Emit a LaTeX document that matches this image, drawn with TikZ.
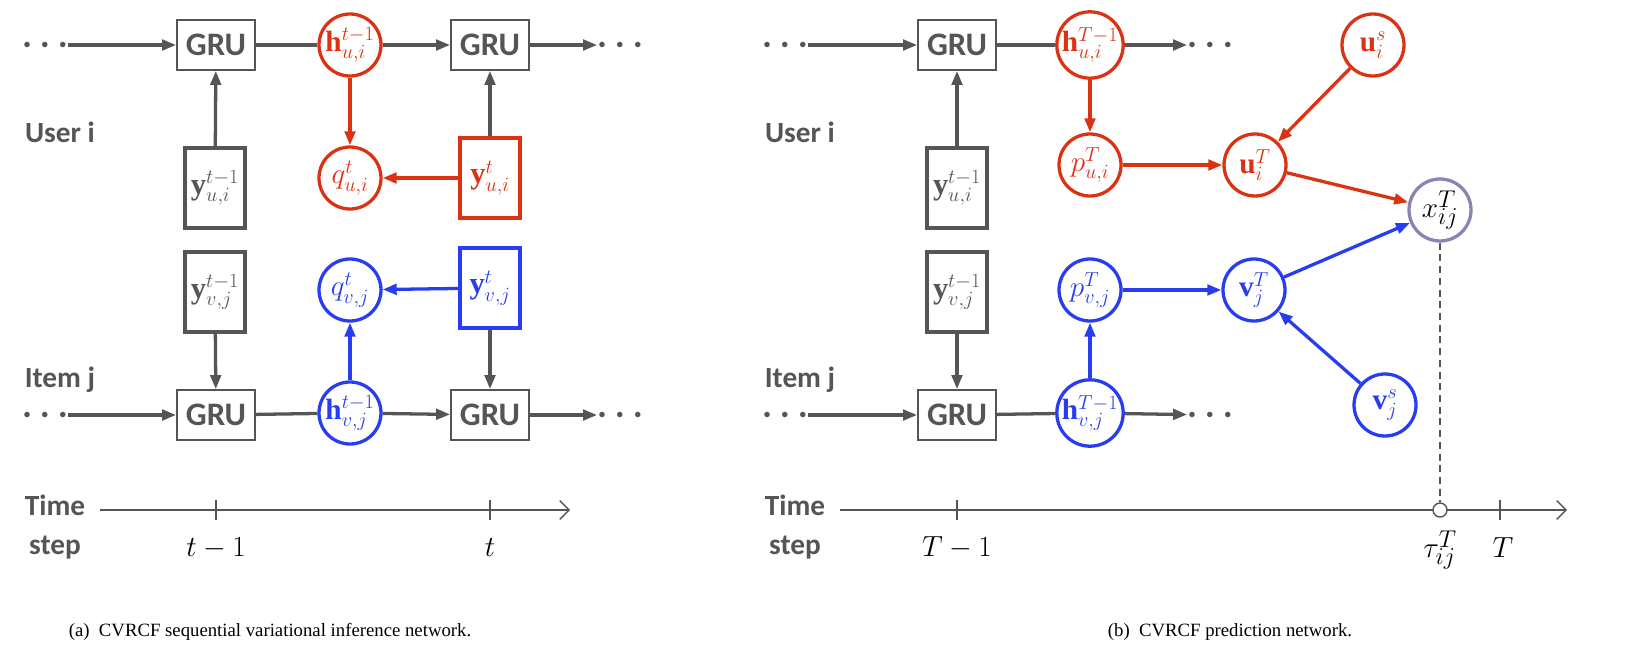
\documentclass[tikz,border=0pt]{standalone}
\usepackage{fontspec}
\setsansfont{Carlito}
\setmainfont{Liberation Serif}
\usetikzlibrary{arrows.meta}
\definecolor{rr}{RGB}{220,50,20}
\definecolor{bb}{RGB}{40,60,240}
\definecolor{gg}{RGB}{85,85,85}
\definecolor{pp}{RGB}{140,130,180}
\begin{document}
\begin{tikzpicture}[x=0.03cm,y=-0.03cm,
 ar/.style={line width=2.8pt,-{Triangle[length=12pt,width=9pt]}},
 ln/.style={line width=2.8pt},
 gru/.style={draw=gg,line width=1.5pt,minimum width=78*0.03cm,minimum height=50*0.03cm,font=\sffamily\bfseries\fontsize{28}{28}\selectfont,text=gg},
 obs/.style={draw=#1,line width=2.8pt,minimum width=60*0.03cm,minimum height=80*0.03cm,inner sep=0pt,font=\fontsize{26}{26}\selectfont,text=#1},
 cir/.style={draw=#1,circle,line width=2.8pt,minimum size=62*0.03cm,inner sep=0pt,font=\fontsize{25}{25}\selectfont,text=#1},
 lab/.style={font=\sffamily\bfseries\fontsize{25}{25}\selectfont,text=gg},
 dots/.style={font=\fontsize{13}{13}\selectfont,text=gg,inner sep=1pt},
 tl/.style={font=\fontsize{30}{30}\selectfont},
 captxt/.style={font=\fontsize{16}{16}\selectfont}]
\useasboundingbox (0,0) rectangle (1648,647);
% ---------- left panel
\node[dots] (d1) at (45,45) {$\bullet\;\;\bullet\;\;\bullet$};
\node[gru] (g1) at (216,45) {GRU};
\node[gru] (g2) at (490,45) {GRU};
\node[dots] (d2) at (620,45) {$\bullet\;\;\bullet\;\;\bullet$};
\node[cir=rr] (hu) at (350,45) {$\mathbf{h}^{t-1}_{u,i}$};
\node[cir=rr] (qu) at (350,178) {$q^{t}_{u,i}$};
\node[obs=gg] (yu0) at (215,188) {$\mathbf{y}^{t-1}_{u,i}$};
\node[obs=rr] (yu1) at (490,178) {$\mathbf{y}^{t}_{u,i}$};
\node[obs=gg] (yv0) at (215,292) {$\mathbf{y}^{t-1}_{v,j}$};
\node[cir=bb] (qv) at (350,290) {$q^{t}_{v,j}$};
\node[obs=bb] (yv1) at (490,288) {$\mathbf{y}^{t}_{v,j}$};
\node[cir=bb] (hv) at (350,413) {$\mathbf{h}^{t-1}_{v,j}$};
\node[gru] (g3) at (216,415) {GRU};
\node[gru] (g4) at (490,415) {GRU};
\node[dots] (d3) at (45,415) {$\bullet\;\;\bullet\;\;\bullet$};
\node[dots] (d4) at (620,415) {$\bullet\;\;\bullet\;\;\bullet$};
\draw[ar,gg] (d1) -- (g1);
\draw[ln,gg] (g1) -- (hu);
\draw[ar,gg] (hu) -- (g2);
\draw[ar,gg] (g2) -- (d2);
\draw[ar,gg] (yu0) -- (g1);
\draw[ar,gg] (yu1) -- (g2);
\draw[ar,rr] (hu) -- (qu);
\draw[ar,rr] (yu1) -- (qu);
\draw[ar,gg] (d3) -- (g3);
\draw[ln,gg] (g3) -- (hv);
\draw[ar,gg] (hv) -- (g4);
\draw[ar,gg] (g4) -- (d4);
\draw[ar,gg] (yv0) -- (g3);
\draw[ar,gg] (yv1) -- (g4);
\draw[ar,bb] (hv) -- (qv);
\draw[ar,bb] (yv1) -- (qv);
\node[lab] (ui) at (60,132) {User i};
\node[lab] (ij) at (60,380) {Item j};
\node[lab] (ti) at (55,505) {Time};
\node[lab] (st) at (55,548) {step};
\coordinate (a0) at (100,510); \coordinate (a1) at (570,510);
\draw[gg,line width=1.2pt,-{Straight Barb[length=8pt]}] (a0) -- (a1);
\draw[gg,line width=1.2pt] (216,500) -- (216,520) (490,500) -- (490,520);
\node[tl] (t1) at (216,548) {$t-1$};
\node[tl] (t2) at (490,548) {$t$};
\node[captxt] (ca) at (270,632) {(a)\ \ CVRCF sequential variational inference network.};
% ---------- right panel
\node[dots] (e1) at (785,45) {$\bullet\;\;\bullet\;\;\bullet$};
\node[gru] (G1) at (957,45) {GRU};
\node[cir=rr] (Hu) at (1090,45) {$\mathbf{h}^{T-1}_{u,i}$};
\node[dots] (e2) at (1210,45) {$\bullet\;\;\bullet\;\;\bullet$};
\node[cir=rr] (us) at (1373,45) {$\mathbf{u}^{s}_{i}$};
\node[obs=gg] (Yu0) at (957,188) {$\mathbf{y}^{t-1}_{u,i}$};
\node[cir=rr] (pu) at (1090,165) {$p^{T}_{u,i}$};
\node[cir=rr] (uT) at (1255,165) {$\mathbf{u}^{T}_{i}$};
\node[cir=pp,text=black,font=\fontsize{30}{30}\selectfont] (x) at (1440,210) {$x^{T}_{ij}$};
\node[obs=gg] (Yv0) at (957,292) {$\mathbf{y}^{t-1}_{v,j}$};
\node[cir=bb] (pv) at (1090,290) {$p^{T}_{v,j}$};
\node[cir=bb] (vT) at (1254,290) {$\mathbf{v}^{T}_{j}$};
\node[cir=bb] (vs) at (1385,405) {$\mathbf{v}^{s}_{j}$};
\node[cir=bb] (Hv) at (1090,413) {$\mathbf{h}^{T-1}_{v,j}$};
\node[gru] (G3) at (957,415) {GRU};
\node[dots] (e3) at (785,415) {$\bullet\;\;\bullet\;\;\bullet$};
\node[dots] (e4) at (1210,415) {$\bullet\;\;\bullet\;\;\bullet$};
\draw[ar,gg] (e1) -- (G1);
\draw[ln,gg] (G1) -- (Hu);
\draw[ar,gg] (Hu) -- (e2);
\draw[ar,gg] (Yu0) -- (G1);
\draw[ar,rr] (Hu) -- (pu);
\draw[ar,rr] (pu) -- (uT);
\draw[ar,rr] (us) -- (uT);
\draw[ar,rr] (uT) -- (x);
\draw[ar,gg] (e3) -- (G3);
\draw[ln,gg] (G3) -- (Hv);
\draw[ar,gg] (Hv) -- (e4);
\draw[ar,gg] (Yv0) -- (G3);
\draw[ar,bb] (Hv) -- (pv);
\draw[ar,bb] (pv) -- (vT);
\draw[ar,bb] (vs) -- (vT);
\draw[ar,bb] (vT) -- (x);
\node[lab] (ui2) at (800,132) {User i};
\node[lab] (ij2) at (800,380) {Item j};
\node[lab] (ti2) at (795,505) {Time};
\node[lab] (st2) at (795,548) {step};
\coordinate (b0) at (840,510); \coordinate (b1) at (1567,510);
\draw[gg,line width=1.2pt,-{Straight Barb[length=8pt]}] (b0) -- (b1);
\draw[gg,line width=1.2pt] (957,500) -- (957,520) (1500,500) -- (1500,520);
\node[circle,draw=gg,fill=white,line width=1.2pt,minimum size=14*0.03cm,inner sep=0pt] (tau) at (1440,510) {};
\draw[gg,line width=1pt,dashed,dash pattern=on 6pt off 4pt] (x) -- (tau);
\node[tl] (T1) at (957,548) {$T-1$};
\node[tl] (T2) at (1440,550) {$\tau^{T}_{ij}$};
\node[tl] (T3) at (1503,548) {$T$};
\node[captxt] (cb) at (1230,632) {(b)\ \ CVRCF prediction network.};
\end{tikzpicture}
\end{document}
